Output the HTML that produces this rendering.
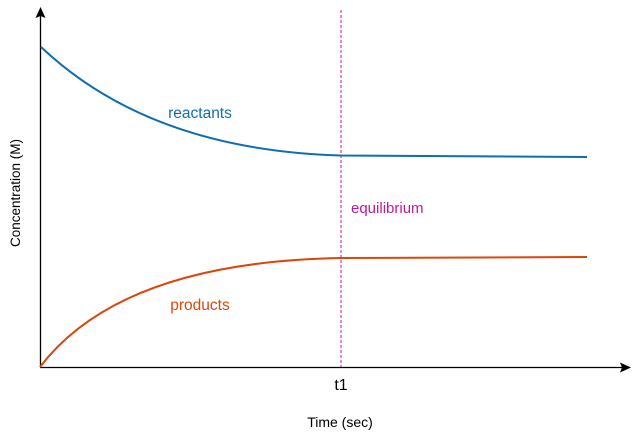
<!DOCTYPE html>
<html><head><style>body{margin:0;background:#fff}svg{display:block}text{font-family:"Liberation Sans",sans-serif}</style></head>
<body>
<svg width="639" height="438" viewBox="0 0 639 438">
<line x1="40.5" y1="367" x2="40.5" y2="16" stroke="#000" stroke-width="1.3"/>
<polygon points="40.5,7 35.5,18 40.5,16 45.5,18" fill="#000"/>
<line x1="40" y1="367.5" x2="622" y2="367.5" stroke="#000" stroke-width="1.3"/>
<polygon points="631,367.5 620,362.5 622,367.5 620,372.5" fill="#000"/>
<line x1="341" y1="10" x2="341" y2="367" stroke="#d0109a" stroke-width="1" stroke-dasharray="3,2"/>
<path d="M41,47 Q150,150 341,155.5 L587,157" fill="none" stroke="#106eb0" stroke-width="2"/>
<path d="M40,367 Q120,262 341,258 L587,257" fill="none" stroke="#d9480b" stroke-width="2"/>
<text x="200" y="118" font-size="15.5" fill="#106eb0" text-anchor="middle">reactants</text>
<text x="200" y="310" font-size="15.5" fill="#d9480b" text-anchor="middle">products</text>
<text x="351" y="213" font-size="15" fill="#c3179b">equilibrium</text>
<text x="341" y="390" font-size="16" fill="#000" text-anchor="middle">t1</text>
<text x="340" y="427" font-size="14" fill="#000" text-anchor="middle">Time (sec)</text>
<text transform="translate(20,193) rotate(-90)" font-size="13.5" fill="#000" text-anchor="middle">Concentration (M)</text>
</svg>
</body></html>
